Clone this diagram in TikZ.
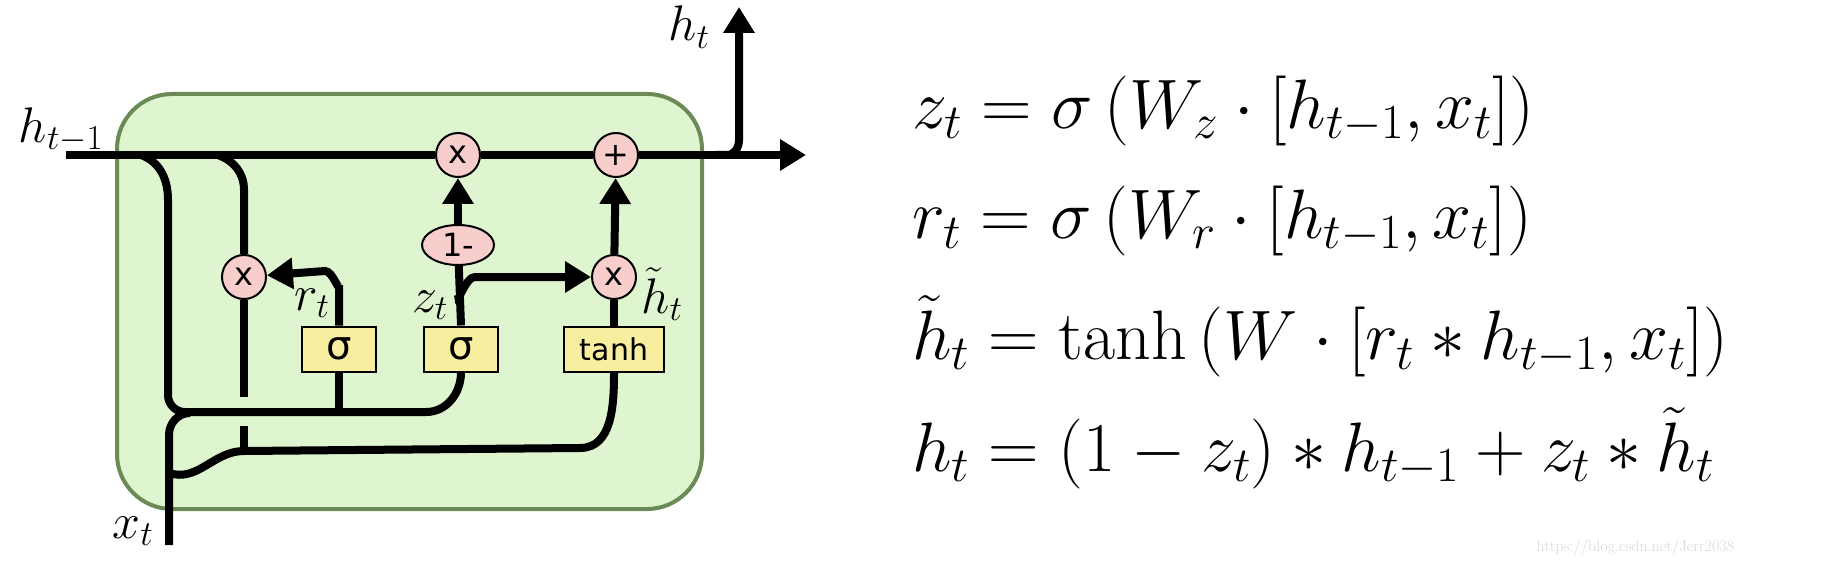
\RequirePackage{fix-cm}
\documentclass[tikz,border=0pt]{standalone}
\usepackage{fontspec}
\setsansfont{DejaVu Sans}
\usetikzlibrary{arrows.meta,shapes.geometric}
\definecolor{boxfill}{HTML}{DFF5D0}
\definecolor{boxline}{HTML}{6B8A55}
\definecolor{opfill}{HTML}{F8CECC}
\definecolor{gatefill}{HTML}{F8EEA0}
\begin{document}
\begin{tikzpicture}[x=1pt,y=-1pt,
  wire/.style={line width=8pt},
  arr/.style={wire,-{Triangle[length=26pt,width=30pt]}},
  op/.style={circle,draw,line width=2pt,fill=opfill,minimum size=44pt,inner sep=0pt,font=\sffamily\fontsize{32}{32}\selectfont},
  gate/.style={rectangle,draw,line width=2pt,fill=gatefill,minimum height=45pt,inner sep=0pt,font=\sffamily\fontsize{40}{40}\selectfont},
  lbl/.style={inner sep=0pt,font=\fontsize{50}{56}\selectfont},
  eq/.style={anchor=west,inner sep=0pt,font=\fontsize{70}{80}\selectfont}]
\useasboundingbox (0,0) rectangle (1826,564);
\fill[white] (0,0) rectangle (1826,564);
\draw[line width=4pt,draw=boxline,fill=boxfill,rounded corners=55pt] (117,94) rectangle (702,509);
% nodes
\node[op] (m1) at (458,155) {x};
\node[op] (p1) at (616,155) {+};
\node[op] (m0) at (244,277) {x};
\node[op] (m2) at (614,277) {x};
\node[ellipse,draw,line width=2pt,fill=opfill,minimum width=72pt,minimum height=40pt,inner sep=0pt,font=\sffamily\fontsize{32}{32}\selectfont] (om) at (458,245) {1-};
\node[gate,minimum width=74pt] (s1) at (339,349) {σ};
\node[gate,minimum width=74pt] (s2) at (461,349) {σ};
\node[gate,minimum width=100pt,font=\sffamily\fontsize{30}{30}\selectfont] (th) at (614,349) {tanh};
\coordinate (hin) at (66,155);
\coordinate (hout) at (806,155);
\coordinate (htop) at (739,7);
\coordinate (xin) at (169,545);
% main line
\draw[wire] (hin) -- (m1) -- (p1);
\draw[arr] (p1) -- (hout);
\draw[arr] (715,155) -- (727,155) to[out=0,in=-90] (739,140) -- (htop);
% branches
\draw[wire] (141,155) to[out=-20,in=90] (168,200) -- (168,395) to[out=-90,in=180] (185,412) -- (426,412) to[out=0,in=-90] (s2.south);
\draw[wire] (s1.south) -- (339,412);
\draw[wire] (218,155) to[out=-20,in=90] (244,190) -- (m0);
\draw[wire] (m0) -- (244,397);
\draw[wire] (244,426) -- (244,451);
\draw[wire] (xin) -- (169,435) to[out=90,in=180] (190,413);
\draw[wire] (169,473) to[out=-18,in=180] (244,451) -- (580,448) to[out=0,in=-90] (th.south);
% gates up
\draw[arr] (s1.north) -- (339,285) to[out=-90,in=0] (325,271) -- (m0);
\draw[wire] (s2.north) -- (om);
\draw[arr] (om) -- (m1);
\draw[arr] (458,295) to[out=-90,in=180] (475,277) -- (m2);
\draw[wire] (th.north) -- (m2);
\draw[arr] (m2) -- (p1);
% labels
\node[lbl] (l1) at (61,130) {$h_{t-1}$};
\node[lbl] (l2) at (689,27) {$h_t$};
\node[lbl] (l3) at (312,303) {$r_t$};
\node[lbl] (l4) at (430,305) {$z_t$};
\node[lbl] (l5) at (662,294) {$\tilde{h}_t$};
\node[lbl] (l6) at (133,531) {$x_t$};
% equations
\node[eq] (e1) at (912,111) {$z_t=\sigma\left(W_z\cdot[h_{t-1},x_t]\right)$};
\node[eq] (e2) at (912,221) {$r_t=\sigma\left(W_r\cdot[h_{t-1},x_t]\right)$};
\node[eq] (e3) at (912,336) {$\tilde{h}_t=\tanh\left(W\cdot[r_t*h_{t-1},x_t]\right)$};
\node[eq] (e4) at (912,448) {$h_t=(1-z_t)*h_{t-1}+z_t*\tilde{h}_t$};
\node[anchor=west,text=black!15,font=\fontsize{16}{16}\selectfont] (wm) at (1533,547) {https://blog.csdn.net/Jerr2038};
\end{tikzpicture}
\end{document}
